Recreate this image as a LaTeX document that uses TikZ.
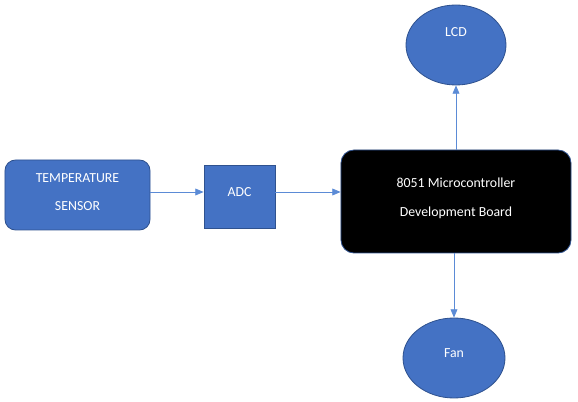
\documentclass[tikz,border=0pt]{standalone}
\usepackage{fontspec}
\setmainfont{Carlito}
\usetikzlibrary{positioning}
\usetikzlibrary{arrows}
\usetikzlibrary{shapes.geometric}
\definecolor{boxfill}{RGB}{68,114,196}
\definecolor{boxline}{RGB}{47,82,143}
\definecolor{wire}{RGB}{91,139,214}
\tikzstyle{block} = [draw=boxline, fill=boxfill, text=white, align=center, line width=0.7pt, inner sep=2pt]
\tikzstyle{link} = [>=triangle 45, ->, draw=wire, line width=0.6pt]

\begin{document}
\begin{tikzpicture}[x=0.03cm, y=-0.03cm, font=\fontsize{11.8}{24.6}\selectfont]
    \useasboundingbox (0,0) rectangle (578,402);
    \tikzstyle{oval} = [block, ellipse, minimum width=3cm, minimum height=2.4cm]

    \node[block, rounded corners=9pt, minimum width=4.35cm, minimum height=2.1cm, text depth=5pt] (sensor) at (77.5,195) {TEMPERATURE\\SENSOR};
    \node[block, minimum width=2.13cm, minimum height=1.89cm, text depth=8pt] (adc) at (239.5,196.5) {ADC};
    \node[block, fill=black, rounded corners=11pt, minimum width=6.9cm, minimum height=3.09cm, text depth=8pt] (mcu) at (456,201.5) {8051 Microcontroller\\Development Board};
    \node[oval, text depth=22pt] (lcd) at (456,45) {LCD};
    \node[oval, minimum width=3.06cm, text depth=9pt] (fan) at (454,358) {Fan};

    % connections
    \draw[link] (sensor.east |- 0,192) -- (adc.west |- 0,192);
    \draw[link] (adc.east |- 0,192) -- (mcu.west |- 0,192);
    \draw[link] (mcu.north) -- (lcd.south);
    \draw[link] (mcu.south -| fan.south) -- (fan.north);
\end{tikzpicture}
\end{document}
